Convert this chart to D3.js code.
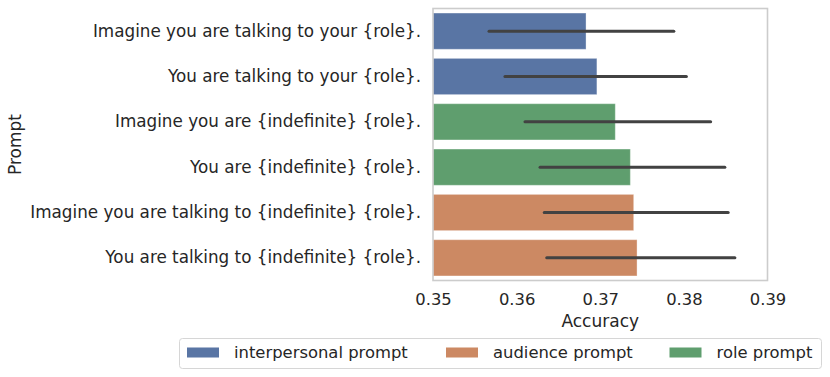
<!DOCTYPE html>
<html>
<head>
<meta charset="utf-8">
<script src="https://cdn.jsdelivr.net/npm/d3@7"></script>
<style>
body { margin: 0; background: #fff; }
text { font-family: "DejaVu Sans", sans-serif; fill: #262626; }
</style>
</head>
<body>
<script>
(function(){

//chart data
var prompts = ["Imagine you are talking to your {role}.",
               "You are talking to your {role}.",
               "Imagine you are {indefinite} {role}.",
               "You are {indefinite} {role}.",
               "Imagine you are talking to {indefinite} {role}.",
               "You are talking to {indefinite} {role}."];
var groups = ["interpersonal prompt", "interpersonal prompt",
              "role prompt", "role prompt",
              "audience prompt", "audience prompt"];
var accuracy = [0.3683, 0.3696, 0.3718, 0.3736, 0.3740, 0.3744];
var ciLow = [0.3567, 0.3586, 0.3610, 0.3628, 0.3633, 0.3636];
var ciHigh = [0.3788, 0.3803, 0.3832, 0.3849, 0.3853, 0.3861];
var legendLabels = ["interpersonal prompt", "audience prompt", "role prompt"];
var xTicks = [0.35, 0.36, 0.37, 0.38, 0.39];

var colors = {
    "interpersonal prompt": "#5975a4",
    "audience prompt": "#cc8963",
    "role prompt": "#5f9e6e"
};

var width = 830,
    height = 377,
    fontSize = "16.4px",
    plotLeft = 433,
    plotRight = 767.5,
    plotTop = 8.5,
    plotBottom = 280.5;

var svg = d3.select("body")
    .append("svg")
    .attr("width", width)
    .attr("height", height);

//scales
var xScale = d3.scaleLinear()
    .domain([0.35, 0.39])
    .range([plotLeft, plotRight]);

var yScale = d3.scaleBand()
    .domain(prompts)
    .range([plotTop, plotBottom])
    .paddingInner(0.2)
    .paddingOuter(0.1);

//bars
svg.selectAll(".bar")
    .data(prompts)
    .enter()
    .append("rect")
    .attr("class", "bar")
    .attr("x", xScale(0.35))
    .attr("y", function(d){ return yScale(d); })
    .attr("width", function(d, i){ return xScale(accuracy[i]) - xScale(0.35); })
    .attr("height", yScale.bandwidth())
    .style("fill", function(d, i){ return colors[groups[i]]; })
    .style("stroke", "rgba(255,255,255,0.35)")
    .style("stroke-width", 1);

//error bars
svg.selectAll(".err")
    .data(prompts)
    .enter()
    .append("line")
    .attr("class", "err")
    .attr("x1", function(d, i){ return xScale(ciLow[i]); })
    .attr("x2", function(d, i){ return xScale(ciHigh[i]); })
    .attr("y1", function(d){ return yScale(d) + yScale.bandwidth() / 2; })
    .attr("y2", function(d){ return yScale(d) + yScale.bandwidth() / 2; })
    .style("stroke", "#424242")
    .style("stroke-width", 3)
    .style("stroke-linecap", "round");

//frame
svg.append("rect")
    .attr("x", plotLeft)
    .attr("y", plotTop)
    .attr("width", plotRight - plotLeft)
    .attr("height", plotBottom - plotTop)
    .style("fill", "none")
    .style("stroke", "#cccccc")
    .style("stroke-width", 1.6);

//axes
var xAxis = svg.append("g")
    .attr("transform", "translate(0," + plotBottom + ")")
    .call(d3.axisBottom(xScale).tickValues(xTicks).tickSize(0).tickPadding(13)
        .tickFormat(d3.format(".2f")));
xAxis.select(".domain").remove();
xAxis.selectAll("text").style("font-size", fontSize).style("font-family", "DejaVu Sans");

var yAxis = svg.append("g")
    .attr("transform", "translate(" + plotLeft + ",0)")
    .call(d3.axisLeft(yScale).tickSize(0).tickPadding(12));
yAxis.select(".domain").remove();
yAxis.selectAll("text").style("font-size", "16.8px").style("font-family", "DejaVu Sans");

//axis titles
svg.append("text")
    .attr("x", (plotLeft + plotRight) / 2)
    .attr("y", 327)
    .attr("text-anchor", "middle")
    .style("font-size", "17px")
    .text("Accuracy");

svg.append("text")
    .attr("transform", "translate(21," + (plotTop + plotBottom) / 2 + ") rotate(-90)")
    .attr("text-anchor", "middle")
    .style("font-size", "17px")
    .text("Prompt");

//legend
var legend = svg.append("g").attr("class", "legend");

legend.append("rect")
    .attr("x", 179.5)
    .attr("y", 338.5)
    .attr("width", 642)
    .attr("height", 30)
    .attr("rx", 3)
    .style("fill", "#fff")
    .style("stroke", "#d6d6d6")
    .style("stroke-width", 1);

var legendX = [187, 446, 669.5];

var items = legend.selectAll(".item")
    .data(legendLabels)
    .enter()
    .append("g")
    .attr("class", "item")
    .attr("transform", function(d, i){ return "translate(" + legendX[i] + ",347.5)"; });

items.append("rect")
    .attr("width", 32)
    .attr("height", 10)
    .style("fill", function(d){ return colors[d]; });

items.append("text")
    .attr("x", 47)
    .attr("y", 5)
    .attr("dy", "0.35em")
    .style("font-size", fontSize)
    .text(function(d){ return d; });

})();
</script>
</body>
</html>
